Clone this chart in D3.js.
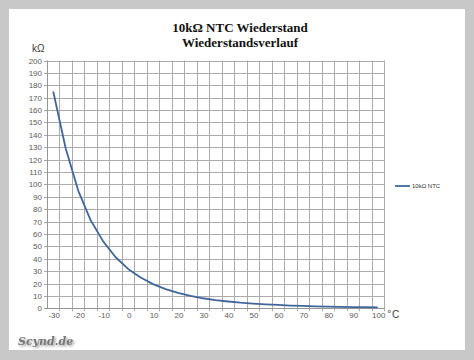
<!DOCTYPE html>
<html><head><meta charset="utf-8">
<script src="https://cdn.jsdelivr.net/npm/d3@7"></script>
<style>html,body{margin:0;padding:0;background:#c8c8c8;}svg{display:block;}</style>
</head><body>
<script>
const temperatures = [-30,-25,-20,-15,-10,-5,0,5,10,15,20,25,30,35,40,45,50,55,60,65,70,75,80,85,90,95,100];
const resistance = [175,129,95,71,54,41.2,31.8,24.8,19.5,15.5,12.4,10,8.1,6.6,5.5,4.5,3.8,3.2,2.7,2.2,1.9,1.6,1.4,1.2,1.0,0.9,0.8];
const yTicks = [0,10,20,30,40,50,60,70,80,90,100,110,120,130,140,150,160,170,180,190,200];
const xLabels = [-30,-20,-10,0,10,20,30,40,50,60,70,80,90,100];
const titleLines = ["10kΩ NTC Wiederstand","Wiederstandsverlauf"];
const seriesName = "10kΩ NTC";

(function () {
const W = 474, H = 360;
const svg = d3.select("body").append("svg").attr("width", W).attr("height", H);
svg.append("rect").attr("width", W).attr("height", H).attr("fill", "#c8c8c8");
svg.append("rect").attr("x", 9).attr("y", 9).attr("width", 456).attr("height", 341).attr("fill", "#ffffff");

const pL = 47, pR = 384, pT = 60.5, pB = 308.3;
const x = d3.scaleBand().domain(temperatures).range([pL, pR]).padding(0);
const y = d3.scaleLinear().domain([0, 200]).range([pB, pT]);

// horizontal grid
svg.append("g").selectAll("line").data(yTicks).join("line")
  .attr("x1", pL - 3).attr("x2", pR)
  .attr("y1", d => Math.round(y(d)) + 0.5).attr("y2", d => Math.round(y(d)) + 0.5)
  .attr("stroke", "#ababab").attr("stroke-width", 1);
// vertical grid at category boundaries
const bounds = temperatures.map(t => x(t) + x.bandwidth());
svg.append("g").selectAll("line").data(bounds).join("line")
  .attr("x1", d => Math.round(d) + 0.5).attr("x2", d => Math.round(d) + 0.5)
  .attr("y1", pT).attr("y2", pB + 3)
  .attr("stroke", "#ababab").attr("stroke-width", 1);
// axes lines
svg.append("line").attr("x1", pL + 0.5).attr("x2", pL + 0.5).attr("y1", pT).attr("y2", pB)
  .attr("stroke", "#959595");
svg.append("line").attr("x1", pL - 3).attr("x2", pR).attr("y1", Math.round(pB) + 0.5).attr("y2", Math.round(pB) + 0.5)
  .attr("stroke", "#959595");

// y labels
svg.append("g").selectAll("text").data(yTicks).join("text")
  .attr("x", 42).attr("y", d => y(d) + 3)
  .attr("text-anchor", "end").attr("font-family", "Liberation Sans, Arial, sans-serif")
  .attr("font-size", 8).attr("fill", "#5a5a5a").text(d => d);
// x labels
svg.append("g").selectAll("text").data(xLabels).join("text")
  .attr("x", d => x(d) + x.bandwidth() / 2 + 1).attr("y", 318)
  .attr("text-anchor", "middle").attr("font-family", "Liberation Sans, Arial, sans-serif")
  .attr("font-size", 8).attr("fill", "#5a5a5a").text(d => d);

// unit labels
svg.append("text").attr("x", 32).attr("y", 52).attr("font-family", "Liberation Sans, Arial, sans-serif")
  .attr("font-size", 10).attr("fill", "#3a3a3a").text("kΩ");
svg.append("text").attr("x", 387).attr("y", 317).attr("font-family", "DejaVu Sans, sans-serif")
  .attr("font-size", 9).attr("fill", "#3a3a3a").text("°");
svg.append("text").attr("x", 392).attr("y", 318).attr("font-family", "Liberation Sans, Arial, sans-serif")
  .attr("font-size", 10).attr("fill", "#3a3a3a").text("C");

// title
svg.append("g").selectAll("text").data(titleLines).join("text")
  .attr("x", 240).attr("y", (d, i) => 32 + i * 14.5)
  .attr("text-anchor", "middle").attr("font-family", "Liberation Serif, Times New Roman, serif")
  .attr("font-weight", "bold").attr("font-size", 13).attr("fill", "#111").text(d => d);

// series line
const line = d3.line().x((d, i) => x(temperatures[i]) + x.bandwidth() / 2).y(d => y(d));
svg.append("path").datum(resistance).attr("d", line).attr("fill", "none")
  .attr("stroke", "#41679a").attr("stroke-width", 1.8).attr("stroke-linejoin", "round");

// legend
svg.append("line").attr("x1", 395).attr("x2", 410).attr("y1", 186).attr("y2", 186)
  .attr("stroke", "#41679a").attr("stroke-width", 1.8);
svg.append("text").attr("x", 412).attr("y", 188).attr("font-family", "Liberation Sans, Arial, sans-serif")
  .attr("font-size", 6).attr("fill", "#333").text(seriesName);

// watermark
const defs = svg.append("defs");
const f = defs.append("filter").attr("id", "sh").attr("x", "-20%").attr("y", "-50%").attr("width", "140%").attr("height", "200%");
f.append("feDropShadow").attr("dx", 1.5).attr("dy", 1.5).attr("stdDeviation", 1.2).attr("flood-color", "#000").attr("flood-opacity", 0.4);
svg.append("text").attr("x", 18).attr("y", 345).attr("font-family", "DejaVu Serif, serif")
  .attr("font-style", "italic").attr("font-weight", "bold").attr("font-size", 11)
  .attr("fill", "#777").attr("filter", "url(#sh)").text("Scynd.de");
})();
</script>
</body></html>
